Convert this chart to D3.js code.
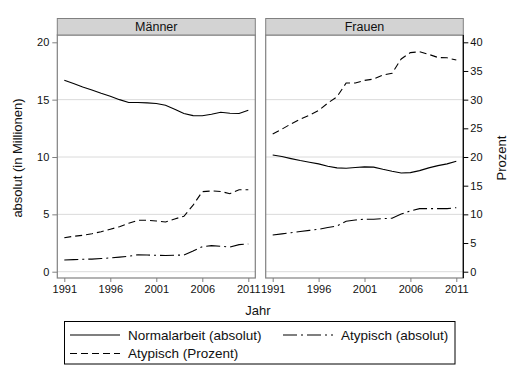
<!DOCTYPE html>
<html>
<head>
<meta charset="utf-8">
<script src="https://cdn.jsdelivr.net/npm/d3@7"></script>
<style>
  body { margin: 0; background: #fff; }
  svg { display: block; }
  svg text { font-family: "Liberation Sans", Arial, sans-serif; }
</style>
</head>
<body>
<svg width="527" height="383"></svg>
<script>
var years = [1991, 1992, 1993, 1994, 1995, 1996, 1997, 1998, 1999, 2000, 2001,
             2002, 2003, 2004, 2005, 2006, 2007, 2008, 2009, 2010, 2011];

// absolute values in millions, percent values on the right axis
var menNormal   = [16.7, 16.4, 16.1, 15.85, 15.55, 15.3, 15.0, 14.75, 14.75, 14.72, 14.66,
                   14.52, 14.17, 13.8, 13.61, 13.59, 13.73, 13.9, 13.82, 13.79, 14.08];
var menAtypAbs  = [1.02, 1.05, 1.08, 1.1, 1.15, 1.2, 1.27, 1.34, 1.48, 1.45, 1.43,
                   1.41, 1.43, 1.46, 1.8, 2.18, 2.27, 2.22, 2.15, 2.36, 2.42];
var menAtypPct  = [5.93, 6.17, 6.35, 6.63, 6.98, 7.4, 7.85, 8.44, 8.97, 8.97, 8.85,
                   8.67, 9.2, 9.66, 11.6, 13.96, 14.08, 13.99, 13.6, 14.3, 14.3];
var womenNormal  = [10.18, 10.04, 9.86, 9.69, 9.54, 9.4, 9.2, 9.05, 9.02, 9.08, 9.14,
                    9.12, 8.93, 8.76, 8.61, 8.64, 8.81, 9.05, 9.25, 9.4, 9.63];
var womenAtypAbs = [3.2, 3.3, 3.4, 3.5, 3.6, 3.7, 3.85, 3.99, 4.4, 4.51, 4.57,
                    4.57, 4.63, 4.66, 5.03, 5.3, 5.5, 5.5, 5.5, 5.5, 5.58];
var womenAtypPct = [24.0, 24.85, 25.78, 26.6, 27.3, 28.1, 29.4, 30.5, 32.9, 32.9, 33.35,
                    33.6, 34.3, 34.6, 37.1, 38.2, 38.35, 37.9, 37.35, 37.3, 36.9];

var panelNames = ["Männer", "Frauen"];
var xTicks = [1991, 1996, 2001, 2006, 2011];
var yTicksLeft = [0, 5, 10, 15, 20];
var yTicksRight = [0, 5, 10, 15, 20, 25, 30, 35, 40];
var gridValues = [0, 5, 10, 15];
var legendLabels = ["Normalarbeit (absolut)", "Atypisch (absolut)", "Atypisch (Prozent)"];

var FONT = "'Liberation Sans', Arial, sans-serif";
var svg = d3.select("svg");

var plotTop = 35, plotBottom = 278;
var panels = [
  { name: panelNames[0], x0: 57.3, x1: 255.3, normal: menNormal, abs: menAtypAbs, pct: menAtypPct },
  { name: panelNames[1], x0: 265.7, x1: 463.3, normal: womenNormal, abs: womenAtypAbs, pct: womenAtypPct }
];

var yLeft = d3.scaleLinear().domain([0, 20]).range([271.7, 42.3]);
var yRight = d3.scaleLinear().domain([0, 40]).range([271.7, 42.3]);

var dashStyles = { solid: null, dashdot: "14,4,2,4", dashed: "7,4" };

panels.forEach(function (p, i) {
  var x = d3.scaleLinear().domain([1991, 2011]).range([p.x0 + 7, p.x1 - 7]);
  var g = svg.append("g");

  // grid
  g.selectAll(".grid").data(gridValues).enter().append("line")
    .attr("x1", p.x0).attr("x2", p.x1)
    .attr("y1", function (d) { return yLeft(d); })
    .attr("y2", function (d) { return yLeft(d); })
    .attr("stroke", "#dadada").attr("stroke-width", 1);

  // panel frame
  g.append("rect")
    .attr("x", p.x0).attr("y", plotTop)
    .attr("width", p.x1 - p.x0).attr("height", plotBottom - plotTop)
    .attr("fill", "none").attr("stroke", "#808080").attr("stroke-width", 1.2);

  // header strip
  g.append("rect")
    .attr("x", p.x0).attr("y", 18.5)
    .attr("width", p.x1 - p.x0).attr("height", 16.5)
    .attr("fill", "#d3d3d3").attr("stroke", "#808080").attr("stroke-width", 1);
  g.append("text")
    .attr("x", (p.x0 + p.x1) / 2).attr("y", 31)
    .attr("text-anchor", "middle").attr("font-size", 12.5).attr("fill", "#111")
    .text(p.name);

  // x axis
  var xAxis = d3.axisBottom(x).tickValues(xTicks).tickFormat(d3.format("d"))
    .tickSize(4).tickPadding(3);
  var gx = g.append("g").attr("transform", "translate(0," + plotBottom + ")").call(xAxis)
    .attr("font-family", FONT).attr("font-size", 11);
  gx.select(".domain").remove();
  gx.selectAll(".tick line").attr("stroke", "#808080");
  gx.selectAll("text").attr("fill", "#111");

  // lines
  var series = [
    { values: p.normal, y: yLeft, dash: dashStyles.solid },
    { values: p.abs, y: yLeft, dash: dashStyles.dashdot },
    { values: p.pct, y: yRight, dash: dashStyles.dashed }
  ];
  series.forEach(function (s) {
    var line = d3.line()
      .x(function (d, j) { return x(years[j]); })
      .y(function (d) { return s.y(d); });
    g.append("path")
      .datum(s.values)
      .attr("d", line)
      .attr("fill", "none")
      .attr("stroke", "#000")
      .attr("stroke-width", 1.1)
      .attr("stroke-dasharray", s.dash);
  });

  if (i === 0) {
    var yAxisL = d3.axisLeft(yLeft).tickValues(yTicksLeft).tickSize(5).tickPadding(3);
    var gy = g.append("g").attr("transform", "translate(" + p.x0 + ",0)").call(yAxisL)
      .attr("font-family", FONT).attr("font-size", 11);
    gy.select(".domain").remove();
    gy.selectAll(".tick line").attr("stroke", "#808080");
    gy.selectAll("text").attr("fill", "#111");
  } else {
    var yAxisR = d3.axisRight(yRight).tickValues(yTicksRight).tickSize(5).tickPadding(2);
    var gy2 = g.append("g").attr("transform", "translate(" + p.x1 + ",0)").call(yAxisR)
      .attr("font-family", FONT).attr("font-size", 11);
    gy2.select(".domain").attr("d", "M0," + plotTop + "V" + plotBottom)
      .attr("stroke", "#000").attr("stroke-width", 1.2);
    gy2.selectAll(".tick line").attr("stroke", "#000");
    gy2.selectAll("text").attr("fill", "#111");
  }
});

// axis titles
svg.append("text")
  .attr("transform", "translate(22,158) rotate(-90)")
  .attr("text-anchor", "middle").attr("font-size", 13).attr("fill", "#111")
  .text("absolut (in Millionen)");
svg.append("text")
  .attr("transform", "translate(506,158) rotate(-90)")
  .attr("text-anchor", "middle").attr("font-size", 13).attr("fill", "#111")
  .text("Prozent");
svg.append("text")
  .attr("x", 258).attr("y", 315)
  .attr("text-anchor", "middle").attr("font-size", 13).attr("fill", "#111")
  .text("Jahr");

// legend
var legend = svg.append("g");
legend.append("rect")
  .attr("x", 64.5).attr("y", 321.5).attr("width", 390.5).attr("height", 42.5)
  .attr("fill", "#fff").attr("stroke", "#000").attr("stroke-width", 1);

var legendItems = [
  { label: legendLabels[0], dash: dashStyles.solid, x: 70, y: 335 },
  { label: legendLabels[1], dash: dashStyles.dashdot, x: 283, y: 335 },
  { label: legendLabels[2], dash: dashStyles.dashed, x: 70, y: 353.5 }
];
legendItems.forEach(function (d) {
  legend.append("line")
    .attr("x1", d.x).attr("x2", d.x + 50)
    .attr("y1", d.y).attr("y2", d.y)
    .attr("stroke", "#000").attr("stroke-width", 1.1)
    .attr("stroke-dasharray", d.dash);
  legend.append("text")
    .attr("x", d.x + 58).attr("y", d.y + 4.5)
    .attr("font-size", 13.5).attr("fill", "#111")
    .text(d.label);
});
</script>
</body>
</html>
